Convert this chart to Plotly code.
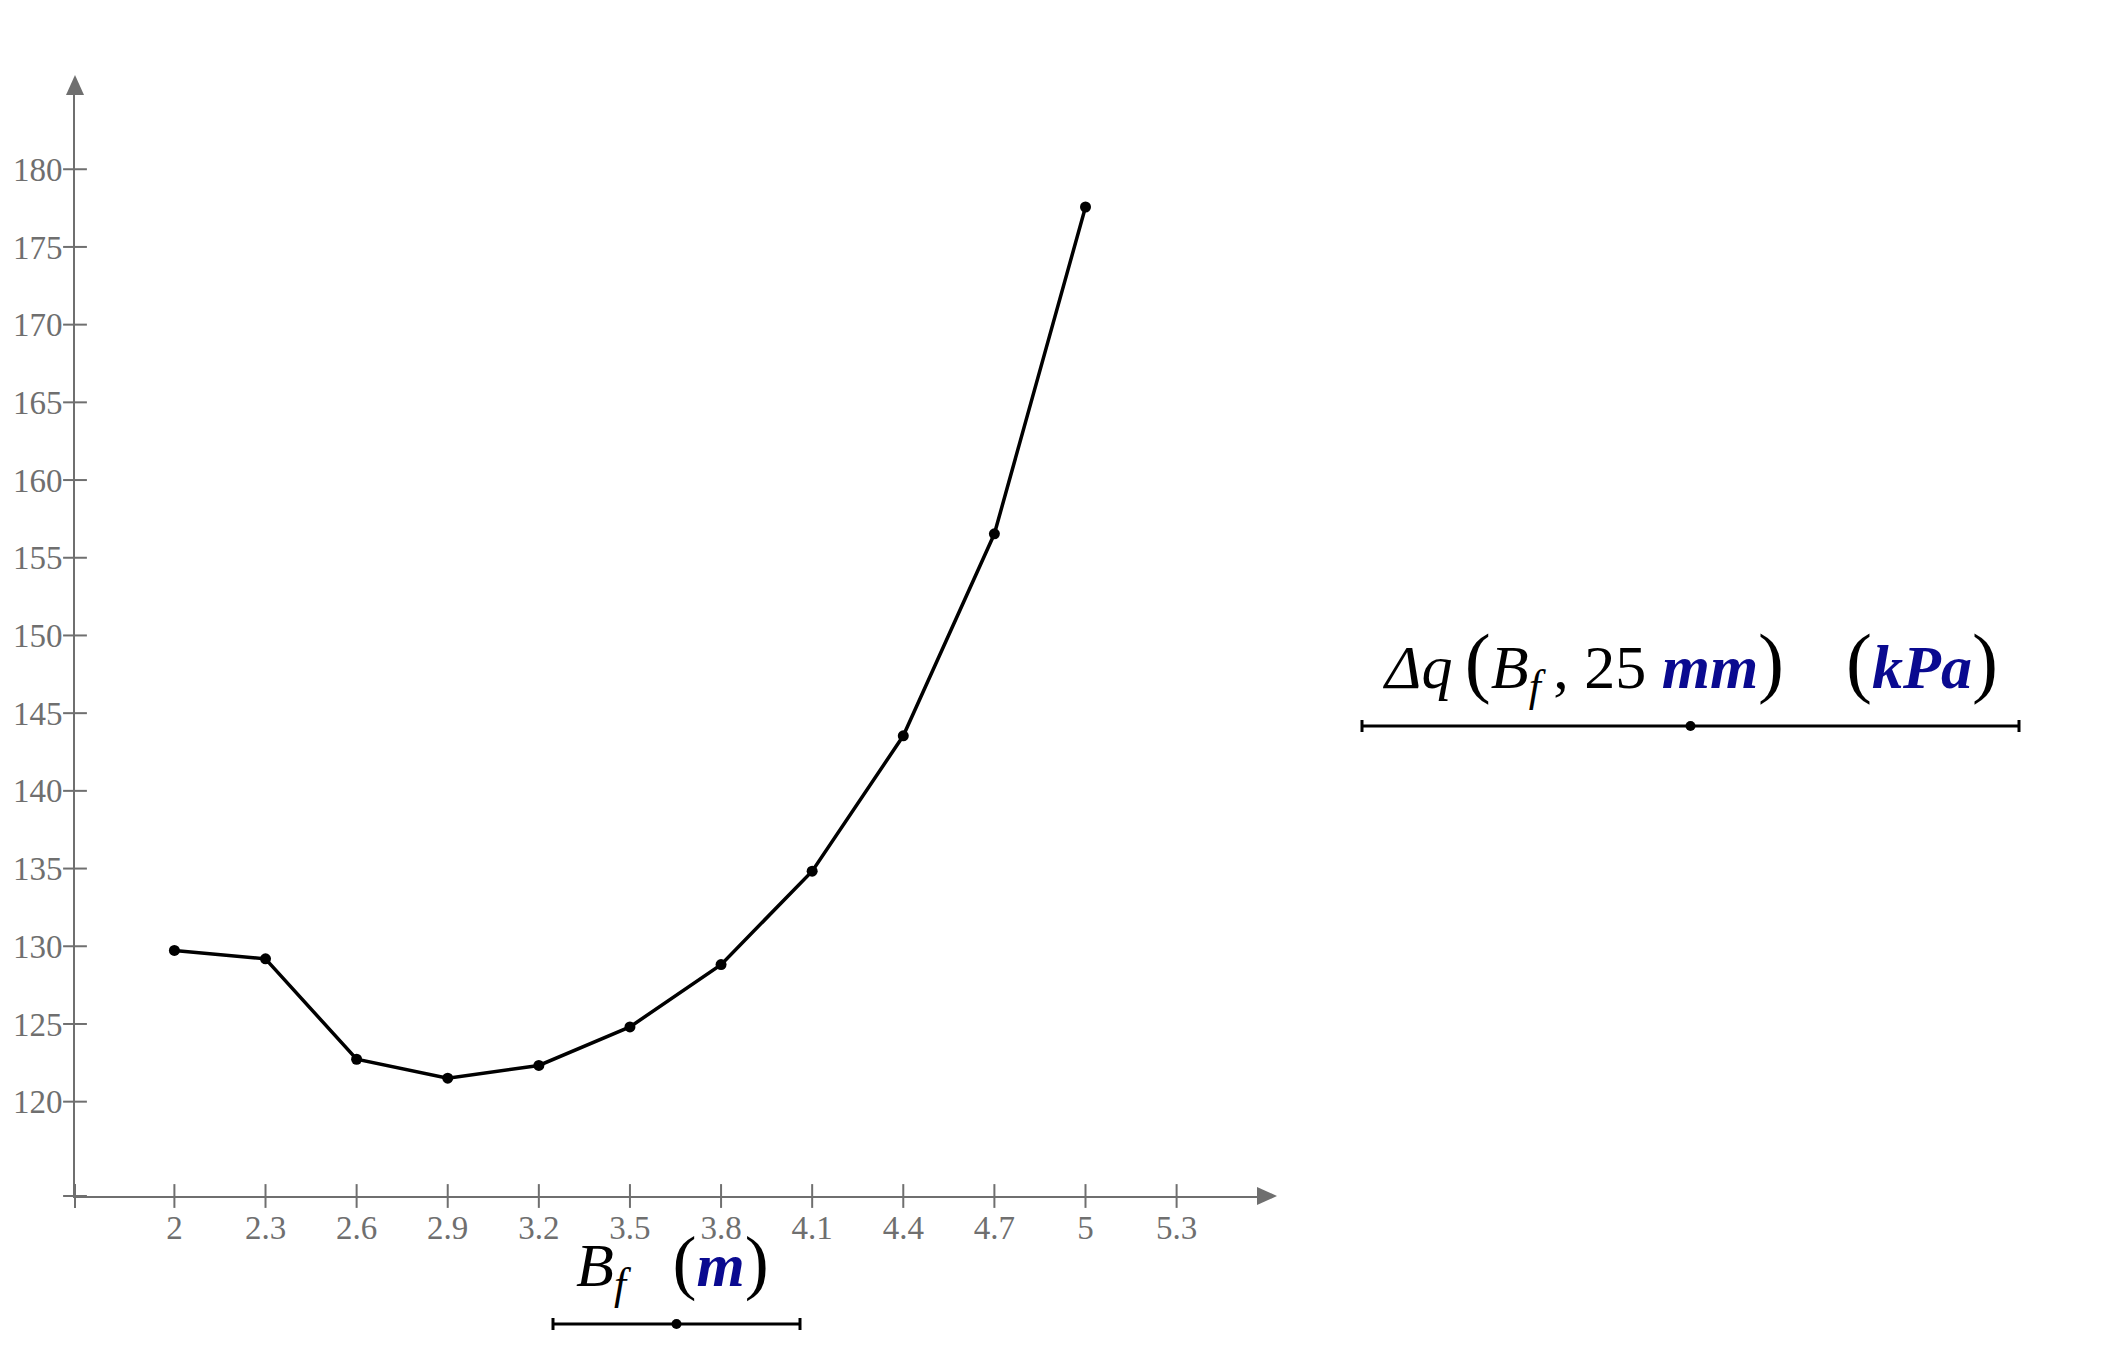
import plotly.graph_objects as go

# page body has an 8px margin: figure origin sits at screen (8, 8)
OFF = 8
W, H = 2104 - 2 * OFF, 1347 - 2 * OFF

# ---- data ----
x_vals = [2.0, 2.3, 2.6, 2.9, 3.2, 3.5, 3.8, 4.1, 4.4, 4.7, 5.0]
dq_vals = [129.73, 129.19, 122.73, 121.51, 122.33, 124.81, 128.82, 134.83, 143.54, 156.54, 177.57]
x_ticks = [2.0, 2.3, 2.6, 2.9, 3.2, 3.5, 3.8, 4.1, 4.4, 4.7, 5.0, 5.3]
x_tick_labels = ["2", "2.3", "2.6", "2.9", "3.2", "3.5", "3.8", "4.1", "4.4", "4.7", "5", "5.3"]
y_ticks = [120, 125, 130, 135, 140, 145, 150, 155, 160, 165, 170, 175, 180]
y_tick_labels = [str(v) for v in y_ticks]

X_RANGE = [1.6727, 5.568]
Y_RANGE = [113.93, 184.97]

# ---- layout geometry (figure pixels) ----
L, T = 75 - OFF, 92 - OFF
PW, PH = 1183, 1104
R, B = W - L - PW, H - T - PH

GRAY = "#6f6f6f"
NAVY = "#0a0a90"
FONT = "Liberation Serif"


def px(xs):  # screen x -> paper
    return (xs - OFF - L) / PW


def py(ys):  # screen y -> paper
    return (H - B - (ys - OFF)) / PH


fig = go.Figure()

# crossing tick marks
fig.add_trace(go.Scatter(
    x=[X_RANGE[0]] + x_ticks, y=[Y_RANGE[0]] * (len(x_ticks) + 1),
    mode="markers", cliponaxis=False, hoverinfo="skip",
    marker=dict(symbol="line-ns", size=17, line=dict(color=GRAY, width=2)),
    showlegend=False))
fig.add_trace(go.Scatter(
    x=[X_RANGE[0]] * (len(y_ticks) + 1), y=[Y_RANGE[0]] + y_ticks,
    mode="markers", cliponaxis=False, hoverinfo="skip",
    marker=dict(symbol="line-ew", size=17, line=dict(color=GRAY, width=2)),
    showlegend=False))

# data
fig.add_trace(go.Scatter(
    x=x_vals, y=dq_vals, mode="lines+markers", cliponaxis=False,
    line=dict(color="black", width=3.5),
    marker=dict(color="black", size=11),
    showlegend=False))

fig.update_xaxes(
    range=X_RANGE, tickvals=x_ticks, ticktext=x_tick_labels, automargin=False,
    showgrid=False, zeroline=False, showline=True, linecolor=GRAY, linewidth=2,
    ticks="outside", ticklen=1, tickwidth=1, tickcolor="rgba(0,0,0,0)",
    tickfont=dict(family=FONT, size=33, color=GRAY))
fig.update_yaxes(
    range=Y_RANGE, tickvals=y_ticks, ticktext=y_tick_labels, automargin=False,
    showgrid=False, zeroline=False, showline=True, linecolor=GRAY, linewidth=2,
    ticks="outside", ticklen=4, tickwidth=1, tickcolor="rgba(0,0,0,0)",
    tickfont=dict(family=FONT, size=33, color=GRAY))

shapes = []
# arrowheads
shapes.append(dict(type="path", xref="paper", yref="paper",
                   path=f"M {px(75)} {py(75)} L {px(66)} {py(95)} L {px(84)} {py(95)} Z",
                   fillcolor=GRAY, line=dict(width=0)))
shapes.append(dict(type="path", xref="paper", yref="paper",
                   path=f"M {px(1277)} {py(1196)} L {px(1257)} {py(1187)} L {px(1257)} {py(1205)} Z",
                   fillcolor=GRAY, line=dict(width=0)))


def bracket(x0, x1, y):
    xm = (x0 + x1) / 2
    out = [
        dict(type="line", xref="paper", yref="paper", x0=px(x0), x1=px(x1), y0=py(y), y1=py(y),
             line=dict(color="black", width=3)),
        dict(type="line", xref="paper", yref="paper", x0=px(x0), x1=px(x0), y0=py(y - 6), y1=py(y + 6),
             line=dict(color="black", width=3)),
        dict(type="line", xref="paper", yref="paper", x0=px(x1), x1=px(x1), y0=py(y - 6), y1=py(y + 6),
             line=dict(color="black", width=3)),
        dict(type="circle", xref="paper", yref="paper", x0=px(xm - 5), x1=px(xm + 5), y0=py(y - 5), y1=py(y + 5),
             fillcolor="black", line=dict(width=0)),
    ]
    return out


shapes += bracket(553, 800, 1324)
shapes += bracket(1362, 2019, 726)

BIGP_X = "<span style='font-size:72px'>%s</span>"
BIGP = "<span style='font-size:78px'>%s</span>"
xlabel = ("<i>B</i><sub><i>f</i></sub>\u2002 " + BIGP_X % "(" +
          f"<b><i><span style='color:{NAVY}'>m</span></i></b>" + BIGP_X % ")")
ylabel = ("<i>Δq</i>\u2009" + BIGP % "(" + "<i>B</i><sub><i>f</i></sub>\u2009, 25 " +
          f"<b><i><span style='color:{NAVY}'>mm</span></i></b>" + BIGP % ")" + "\u2003" +
          BIGP % "(" + f"<b><i><span style='color:{NAVY}'>kPa</span></i></b>" + BIGP % ")")

annotations = [
    dict(xref="paper", yref="paper", x=px(672), y=py(1265), xanchor="center", yanchor="middle",
         text=xlabel, showarrow=False, font=dict(family=FONT, size=62, color="black")),
    dict(xref="paper", yref="paper", x=px(1690), y=py(664), xanchor="center", yanchor="middle",
         text=ylabel, showarrow=False, font=dict(family=FONT, size=62, color="black")),
]

fig.update_layout(
    width=W, height=H, autosize=False,
    margin=dict(l=L, r=R, t=T, b=B, pad=0, autoexpand=False),
    paper_bgcolor="white", plot_bgcolor="white",
    shapes=shapes, annotations=annotations,
)

fig.write_html("out.html")
